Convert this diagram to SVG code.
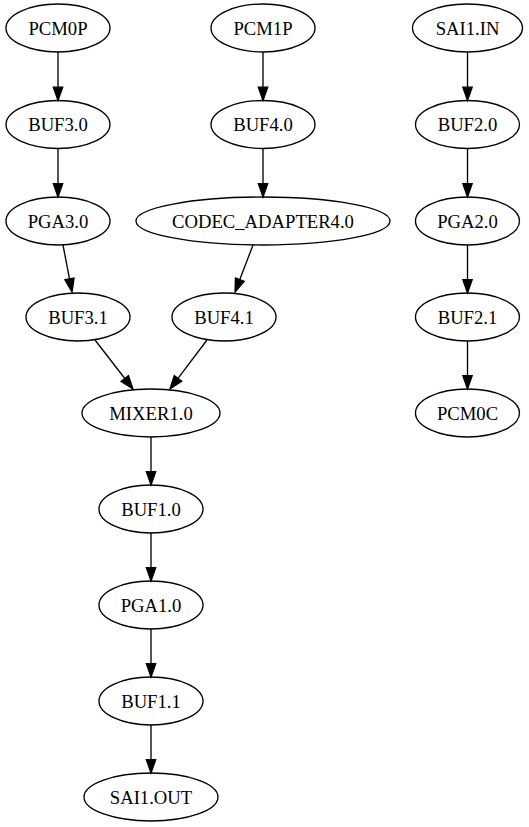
<svg xmlns="http://www.w3.org/2000/svg" width="529" height="827" viewBox="0 0 529 827">
<style>
.n ellipse{fill:none;stroke:#000;stroke-width:1.33}
.n text{font-family:"Liberation Serif","Times New Roman",serif;font-size:18.67px;text-anchor:middle;fill:#000}
#edges line{stroke:#000;stroke-width:1.33;marker-end:url(#ah)}
</style>
<defs>
<marker id="ah" markerUnits="userSpaceOnUse" markerWidth="16" markerHeight="12" refX="0" refY="4.67" orient="auto" overflow="visible">
<path d="M0,0 L13.3,4.67 L0,9.33 Z" fill="#000" stroke="#000" stroke-width="1.33"/>
</marker>
</defs>
<rect width="529" height="827" fill="#fff"/>
<g id="edges">
<line x1="58" y1="52" x2="58" y2="87.2"/>
<line x1="58" y1="148.5" x2="58" y2="183.7"/>
<line x1="63" y1="245" x2="69.5" y2="278.9"/>
<line x1="263" y1="52" x2="263" y2="87.2"/>
<line x1="263" y1="148.5" x2="263" y2="183.7"/>
<line x1="253" y1="245" x2="239.8" y2="279.6"/>
<line x1="467.5" y1="52" x2="467.5" y2="87.2"/>
<line x1="467.5" y1="148.5" x2="467.5" y2="183.7"/>
<line x1="467.5" y1="245" x2="467.5" y2="279.7"/>
<line x1="467.5" y1="341" x2="467.5" y2="375.7"/>
<line x1="95" y1="340" x2="124.8" y2="378.5"/>
<line x1="207" y1="340" x2="178" y2="378.4"/>
<line x1="151" y1="437" x2="151" y2="471.7"/>
<line x1="151" y1="533" x2="151" y2="567.7"/>
<line x1="151" y1="629" x2="151" y2="663.7"/>
<line x1="151" y1="725" x2="151" y2="759.7"/>
</g>
<g id="PCM0P" class="n"><ellipse cx="58" cy="28" rx="52" ry="24"/><text x="58" y="34.5">PCM0P</text></g>
<g id="PCM1P" class="n"><ellipse cx="263" cy="28" rx="52" ry="24"/><text x="263" y="34.5">PCM1P</text></g>
<g id="SAI1.IN" class="n"><ellipse cx="467.5" cy="28" rx="55" ry="24"/><text x="467.5" y="34.5">SAI1.IN</text></g>
<g id="BUF3.0" class="n"><ellipse cx="58" cy="124.5" rx="52" ry="24"/><text x="58" y="131">BUF3.0</text></g>
<g id="BUF4.0" class="n"><ellipse cx="263" cy="124.5" rx="52" ry="24"/><text x="263" y="131">BUF4.0</text></g>
<g id="BUF2.0" class="n"><ellipse cx="467.5" cy="124.5" rx="52" ry="24"/><text x="467.5" y="131">BUF2.0</text></g>
<g id="PGA3.0" class="n"><ellipse cx="58" cy="221" rx="52" ry="24"/><text x="58" y="227.5">PGA3.0</text></g>
<g id="CODEC_ADAPTER4.0" class="n"><ellipse cx="263" cy="221" rx="127" ry="24"/><text x="263" y="227.5">CODEC_ADAPTER4.0</text></g>
<g id="PGA2.0" class="n"><ellipse cx="467.5" cy="221" rx="52" ry="24"/><text x="467.5" y="227.5">PGA2.0</text></g>
<g id="BUF3.1" class="n"><ellipse cx="78" cy="317" rx="52" ry="24"/><text x="78" y="323.5">BUF3.1</text></g>
<g id="BUF4.1" class="n"><ellipse cx="224" cy="317" rx="52" ry="24"/><text x="224" y="323.5">BUF4.1</text></g>
<g id="BUF2.1" class="n"><ellipse cx="467.5" cy="317" rx="52" ry="24"/><text x="467.5" y="323.5">BUF2.1</text></g>
<g id="MIXER1.0" class="n"><ellipse cx="151" cy="413" rx="69" ry="24"/><text x="151" y="419.5">MIXER1.0</text></g>
<g id="PCM0C" class="n"><ellipse cx="467.5" cy="413" rx="52" ry="24"/><text x="467.5" y="419.5">PCM0C</text></g>
<g id="BUF1.0" class="n"><ellipse cx="151" cy="509" rx="52" ry="24"/><text x="151" y="515.5">BUF1.0</text></g>
<g id="PGA1.0" class="n"><ellipse cx="151" cy="605" rx="52" ry="24"/><text x="151" y="611.5">PGA1.0</text></g>
<g id="BUF1.1" class="n"><ellipse cx="151" cy="701" rx="52" ry="24"/><text x="151" y="707.5">BUF1.1</text></g>
<g id="SAI1.OUT" class="n"><ellipse cx="151" cy="797" rx="67" ry="24"/><text x="151" y="803.5">SAI1.OUT</text></g>
</svg>
